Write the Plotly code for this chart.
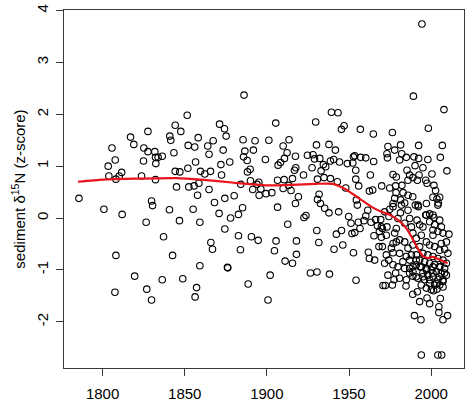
import plotly.graph_objects as go

# ---- scatter data (year, sediment d15N z-score) ----
year = [
 1785.6,1800.8,1811.9,1803.8,1803.4,1805.7,1807.7,1808.1,1810.1,1811.6,1808.1,1807.5,1817.0,1819.0,1819.5,
 1823.7,1824.9,1825.1,1827.6,1827.6,1826.5,1826.9,1829.8,1829.8,1830.4,1831.8,1832.2,1832.4,1833.8,1836.3,
 1832.2,1836.3,1837.1,1840.7,1840.9,1841.5,1843.4,1844.2,1847.6,1844.2,1847.0,1845.0,1846.8,1842.6,1848.8,
 1886.1,1851.5,1858.2,1852.1,1856.1,1871.2,1874.2,1875.2,1867.3,1864.0,1864.8,1873.4,1856.6,1851.9,1859.6,
 1862.2,1865.7,1872.0,1877.4,1872.4,1852.5,1855.7,1858.6,1864.8,1857.8,1855.1,1868.1,1874.4,1880.1,1870.9,
 1877.9,1882.7,1885.2,1859.2,1874.4,1865.9,1866.9,1882.7,1883.9,1890.6,1894.7,1859.2,1876.0,1876.2,1857.2,
 1856.3,1888.6,1902.0,1900.7,1885.5,1892.8,1901.2,1886.6,1891.8,1885.8,1888.0,1905.4,1899.1,1889.8,1888.2,
 1884.1,1890.0,1895.1,1891.4,1894.0,1896.3,1895.3,1899.5,1903.0,1906.5,1906.8,1908.3,1909.9,1913.5,1910.7,
 1912.3,1917.4,1910.5,1909.9,1913.3,1915.6,1914.7,1916.8,1917.6,1919.2,1917.4,1906.5,1912.7,1905.6,1904.6,
 1918.0,1918.0,1911.1,1915.6,
 1939.3,1943.3,1929.7,1947.0,1945.4,1956.9,1964.8,1930.2,1937.8,1941.7,1924.7,1928.1,1929.0,1932.2,1934.4,
 1935.8,1927.5,1933.0,1938.7,1940.7,1944.2,1949.0,1953.5,1957.1,1952.7,1960.2,1965.0,1952.3,1954.1,1963.0,
 1922.3,1930.8,1934.8,1938.7,1942.9,1948.0,1954.1,1955.9,1962.4,1964.4,1969.9,1931.8,1930.8,1932.6,1935.2,
 1937.8,1923.8,1922.6,1943.7,1949.8,1954.5,1955.1,1951.2,1955.7,1956.7,1953.5,1951.8,1959.1,1960.2,1961.4,
 1963.4,1966.2,1967.3,1965.2,1969.3,1968.5,1970.3,1968.2,1930.4,1931.6,1942.3,1945.4,1946.2,1940.9,1952.7,
 1961.8,1962.4,1965.6,1926.5,1930.5,1938.1,1954.3,1970.7,
 1994.4,1989.2,2007.8,1976.4,1998.3,1992.4,1981.4,1973.7,2006.8,1977.8,1973.1,1982.1,1973.4,1980.8,1984.9,
 1989.5,1992.4,1998.0,2005.6,1990.2,1995.0,2009.6,1985.3,1976.8,1978.8,1986.9,1988.9,1992.6,2000.5,1985.9,
 1991.6,1996.7,1982.2,1978.4,1997.5,2001.7,1974.8,2002.7,1978.6,1982.9,1985.9,1988.8,2001.1,2003.5,2005.2,
 1977.8,1981.4,1976.8,1983.9,1990.4,1992.2,2004.4,1996.7,1999.1,2001.7,1974.8,
 1994.0,2004.1,2006.4,1989.8,1993.8,2007.2,2010.0,2004.7,2004.7,2005.6,1999.1,1997.5,1993.0,1988.8,1991.6,
 1984.7,1972.1,1976.4,2001.5,2003.5,2007.2,1977.4,1980.8,1984.9,1988.9,1992.0,1973.7,1978.4,1971.7,1974.2,
 1976.8,1979.8,1983.9,1982.8,1986.9,1976.8,1980.8,1972.7,1975.8,1970.3,1969.7,1972.7,1977.8,1978.8,1980.8,
 1976.8,1973.1,1969.7,1978.8,1979.8,1974.3,1971.7,1976.8,1981.3,1981.9,1985.9,1986.9,1983.9,1988.0,1991.4,
 1993.0,1995.0,1997.1,2001.1,1999.1,2005.2,2002.1,2006.2,2001.1,2004.1,2007.2,2010.8,2001.1,2009.3,2006.2,
 1988.9,1991.0,1994.0,1997.1,1999.1,2002.1,2005.2,2008.2,2010.2,1993.0,1988.9,1985.9,1983.9,1995.0,1998.0,
 2001.1,2004.1,2007.2,2009.3,1991.0,1988.0,1984.9,1993.0,1996.0,1999.1,2002.1,2005.2,2008.2,1991.0,1994.0,
 1997.1,2000.1,2003.2,2006.2,2009.3,1995.0,1998.0,2001.1,2004.1,2007.2,1996.0,1999.1,2002.1,2005.2,1994.0,
 1997.1,2000.1,1986.9,1988.9,1997.1,1992.0,2004.1,
 1990.9,1993.2,1997.1,2001.1,2005.2,2003.2,2007.2,1999.1,1995.0,1988.9,1986.9,1990.9,2001.1,2005.2,2008.2,
]
z_score = [
 0.38,0.17,0.07,0.81,1.00,1.35,1.12,0.75,0.81,0.88,-0.72,-1.43,1.56,1.42,-1.12,
 0.81,1.10,1.35,1.28,1.67,-0.08,-1.37,-1.58,0.33,0.24,1.28,1.17,1.05,1.17,1.19,
 0.74,-1.19,-0.36,0.16,1.58,1.50,1.26,1.79,1.67,0.90,0.89,0.60,-0.05,-0.72,-1.17,
 2.37,1.98,1.55,1.40,1.37,1.81,1.72,1.58,1.49,1.39,1.23,1.31,1.08,0.96,0.90,
 0.85,0.90,1.03,1.08,0.83,0.60,0.62,0.67,0.55,0.44,0.17,0.30,0.38,0.43,0.09,
 0.00,0.07,0.20,-0.08,-0.21,-0.47,-0.60,-0.34,-0.61,-0.36,-0.43,-0.92,-0.95,-0.96,-1.34,
 -1.52,-1.27,-1.10,-1.58,1.51,1.49,1.50,1.29,1.31,1.18,1.11,1.83,1.13,0.94,0.89,
 0.65,0.72,0.69,0.55,0.65,0.56,0.44,0.47,0.49,0.73,1.02,1.07,1.39,1.51,1.15,
 1.26,1.19,0.74,0.57,0.63,0.76,0.53,0.92,0.97,0.41,0.28,0.21,-0.12,-0.44,-0.63,
 -0.44,-0.70,-0.83,-0.87,
 2.04,2.03,1.85,1.78,1.71,1.71,1.62,1.41,1.42,1.31,1.21,1.22,1.14,1.15,1.03,
 0.99,0.97,0.91,1.10,1.13,1.08,1.05,1.20,1.17,1.18,1.16,1.09,1.06,0.92,0.83,
 0.83,0.75,0.78,0.76,0.70,0.58,0.75,0.62,0.52,0.54,0.62,0.46,0.36,0.28,0.19,
 0.10,0.05,0.01,0.12,0.03,0.35,0.25,-0.10,-0.08,-0.20,-0.28,-0.30,-0.05,0.04,0.15,
 -0.08,-0.03,-0.15,-0.34,-0.03,-0.26,-0.20,-0.55,-0.24,-0.47,-0.31,-0.24,-0.52,-0.60,-0.67,
 -0.66,-0.78,-0.81,-1.06,-1.04,-1.08,-1.20,-1.30,
 3.74,2.35,2.09,1.65,1.73,1.40,1.41,1.38,1.40,1.31,1.24,1.24,1.16,1.12,1.17,
 1.18,1.15,1.13,1.17,1.01,0.97,0.91,0.92,0.84,0.79,0.83,0.78,0.83,0.85,0.73,
 0.73,0.73,0.63,0.62,0.67,0.63,0.58,0.53,0.49,0.49,0.44,0.41,0.40,0.37,0.40,
 0.38,0.35,0.28,0.29,0.25,0.22,0.29,0.06,0.08,0.01,0.17,
 -2.64,-2.64,-2.64,-1.88,-1.96,-1.96,-1.88,-1.82,-1.71,-1.55,-1.65,-1.54,-1.61,-1.47,-1.42,
 -1.31,-1.30,-1.29,-1.40,-1.37,-1.33,-1.19,-1.16,-1.19,-1.12,-1.16,-1.10,-1.06,-0.87,-0.81,
 -0.90,-0.94,-0.97,-0.84,-0.81,-0.67,-0.68,-0.71,-0.58,-0.55,-0.37,-0.33,-0.29,-0.46,-0.42,
 -0.49,-0.17,-0.17,-0.20,-0.01,0.03,0.12,0.22,0.10,0.25,0.15,-0.01,-0.10,-0.17,-0.04,
 -0.13,-0.17,0.06,0.06,-0.07,-0.04,-0.13,-0.17,-0.23,-0.26,-0.29,-0.31,-0.33,-0.46,-0.49,
 -0.29,-0.39,-0.33,-0.46,-0.52,-0.55,-0.62,-0.60,-0.68,-0.55,-0.52,-0.58,-0.46,-0.68,-0.71,
 -0.74,-0.78,-0.81,-0.87,-0.71,-0.71,-0.74,-0.81,-0.84,-0.87,-0.90,-0.94,-0.97,-0.90,-0.94,
 -0.97,-1.00,-1.03,-1.06,-1.10,-1.06,-1.10,-1.13,-1.19,-1.19,-1.19,-1.26,-1.29,-1.29,-1.29,
 -1.35,-1.38,-0.97,-1.03,0.28,0.25,0.25,
 -0.81,-0.94,-1.00,-1.06,-1.13,-1.26,-1.22,-1.19,-1.13,-0.94,-1.06,-1.13,-0.94,-0.94,-1.06,
]

# ---- smooth (lowess-like) trend ----
trend_year = [1785, 1800, 1820, 1845, 1860, 1880, 1900, 1915, 1930, 1940, 1947, 1953, 1958,
              1963, 1969, 1975, 1980, 1984, 1988, 1991, 1995, 1998, 2001, 2005, 2010]
trend_z = [0.70, 0.74, 0.76, 0.77, 0.74, 0.68, 0.63, 0.64, 0.66, 0.66, 0.57, 0.45, 0.34,
           0.23, 0.13, 0.06, -0.04, -0.16, -0.36, -0.54, -0.73, -0.77, -0.75, -0.80, -0.87]

x_ticks = [1800, 1850, 1900, 1950, 2000]
y_ticks = [-2, -1, 0, 1, 2, 3, 4]

FONT = "Liberation Sans, Arial, Helvetica, sans-serif"
AX = "#3a3a3a"

fig = go.Figure()
fig.add_trace(go.Scatter(
    x=year, y=z_score, mode="markers",
    marker=dict(symbol="circle-open", size=6.5, color="black", line=dict(width=1.1, color="black")),
    showlegend=False, hoverinfo="skip"))
fig.add_trace(go.Scatter(
    x=trend_year, y=trend_z, mode="lines",
    line=dict(color="#e8141c", width=2.2, shape="spline", smoothing=0.5),
    showlegend=False, hoverinfo="skip"))

fig.update_layout(
    width=474, height=404,
    margin=dict(l=64, r=10, t=10, b=36, autoexpand=False),
    paper_bgcolor="white", plot_bgcolor="white",
    font=dict(family=FONT, size=15, color="black"),
)
fig.update_xaxes(
    range=[1776.5, 2020], tickvals=x_ticks, ticktext=[str(v) for v in x_ticks],
    ticks="outside", ticklen=7, tickwidth=1, tickcolor=AX, ticklabelstandoff=5,
    showline=True, linecolor=AX, linewidth=1, mirror=True, automargin=False,
    showgrid=False, zeroline=False, tickfont=dict(size=15, family=FONT))
fig.update_yaxes(
    range=[-2.89, 4.01], tickvals=y_ticks, ticktext=[str(v) for v in y_ticks],
    tickangle=-90,
    ticks="outside", ticklen=7, tickwidth=1, tickcolor=AX, ticklabelstandoff=2,
    showline=True, linecolor=AX, linewidth=1, mirror=True, automargin=False,
    showgrid=False, zeroline=False, tickfont=dict(size=15, family=FONT),
    title=dict(text="sediment δ<sup>15</sup>N (z-score)", font=dict(size=15, family=FONT), standoff=4))

fig.write_html("out.html")
